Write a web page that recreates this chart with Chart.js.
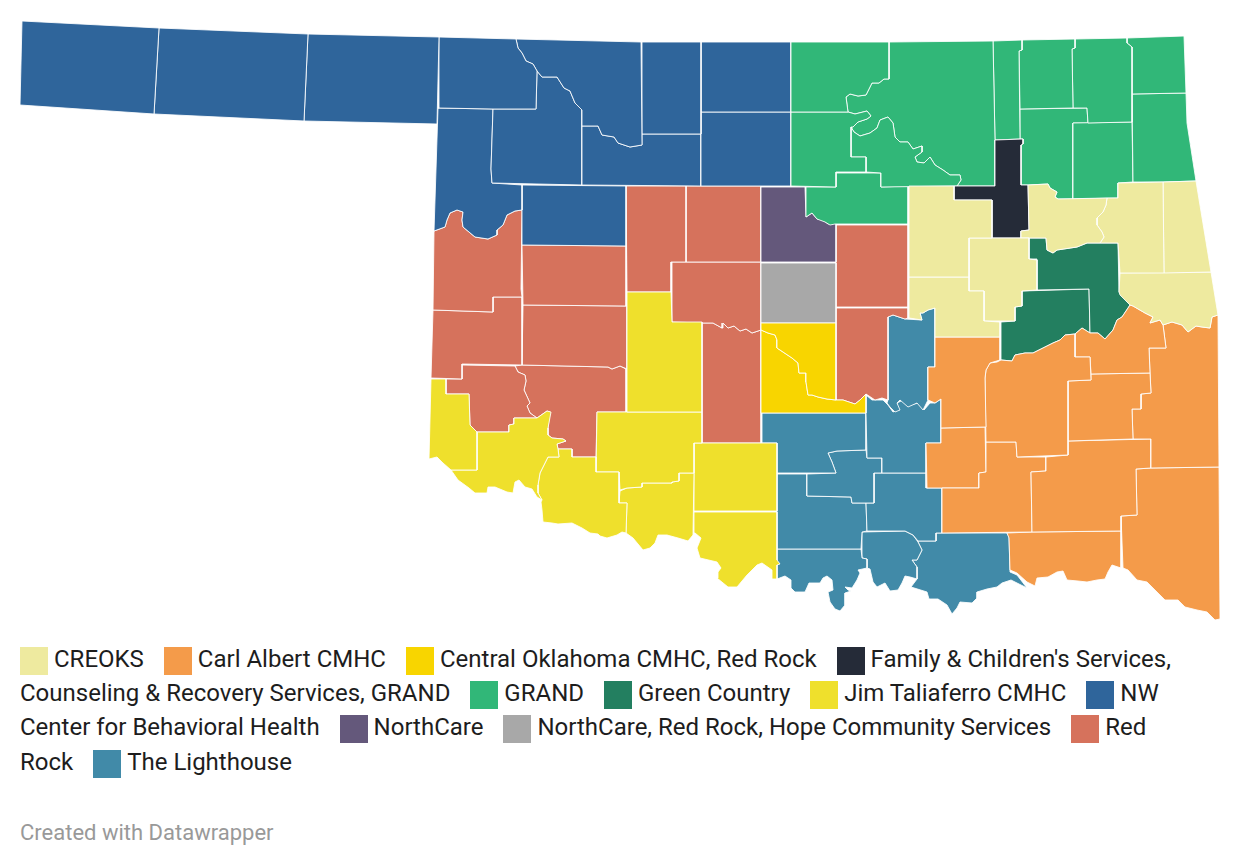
<!DOCTYPE html>
<html>
<head>
<meta charset="utf-8">
<title>Oklahoma service areas</title>
<script src="https://cdn.jsdelivr.net/npm/chart.js@4"></script>
<style>
  html, body { margin: 0; padding: 0; background: #fff; font-family: Roboto, sans-serif; }
  #map-wrap { position: absolute; left: 0; top: 0; width: 1240px; height: 640px; }
  #legend { position: absolute; left: 20px; top: 641.6px; width: 1180px; font-size: 24px; line-height: 34.4px; color: #1d1d1d; }
  .swatch { display: inline-block; width: 28px; height: 28px; margin-right: 6px; vertical-align: -8px; }
  .item { margin-right: 14px; }
  #credit { position: absolute; left: 20px; top: 820px; font-size: 22px; color: #999; }
</style>
</head>
<body>
<div id="map-wrap"><canvas id="map" width="1240" height="640"></canvas></div>
<div id="legend"></div>
<div id="credit">Created with Datawrapper</div>
<script>
// Legend order
const providerNames = ["CREOKS", "Carl Albert CMHC", "Central Oklahoma CMHC, Red Rock", "Family & Children's Services, Counseling & Recovery Services, GRAND", "GRAND", "Green Country", "Jim Taliaferro CMHC", "NW Center for Behavioral Health", "NorthCare", "NorthCare, Red Rock, Hope Community Services", "Red Rock", "The Lighthouse"];
const providerColors = ["#eeea9f", "#f49b4a", "#f8d500", "#252b38", "#31b778", "#237f60", "#efe02c", "#2f659b", "#64587b", "#a8a8a8", "#d6725c", "#418aa8"];

// County outlines, flat x,y lists
const creoksCounties = [
  [909,186,954,186,954,200,992,200,992,238,969,238,969,277,909,277],
  [909,277,969,277,969,291,984,291,984,321,1000,322,1000,337,935,337,935,308,928,310,923,313,920,313,922,320,909,318],
  [969,238,1029,238,1029,259,1037,260,1037,290,1022,291,1022,306,1015,307,1015,321,984,321,984,291,969,291],
  [1028,185,1048,184,1050,188,1057,192,1055,197,1058,199,1107,198,1106,205,1103,212,1097,218,1097,225,1102,232,1104,237,1100,243,1087,243,1077,247,1057,250,1053,253,1047,250,1046,238,1021,238,1021,231,1029,230],
  [1107,198,1118,198,1118,183,1163,182,1164,273,1120,273,1118,243,1100,243,1104,237,1102,232,1097,225,1097,218,1103,212,1106,205],
  [1163,182,1196,181,1211,272,1164,273],
  [1120,273,1211,272,1218,315,1212,317,1210,328,1202,327,1196,326,1188,332,1182,325,1172,322,1163,325,1160,320,1150,323,1153,317,1145,313,1133,306,1130,305,1120,295,1119,292]
];
const carlAlbertCounties = [
  [935,337,1000,337,1000,360,990,363,986,370,985,378,986,427,941,428,941,399,935,403,928,400,928,367,935,367],
  [997,362,1001,360,1012,361,1015,355,1025,353,1033,353,1043,348,1053,343,1060,340,1065,335,1075,334,1075,357,1090,357,1091,380,1068,381,1068,455,1017,457,1016,442,986,442,985,378,986,370,990,363],
  [1075,334,1082,328,1090,333,1098,333,1105,339,1113,330,1117,320,1122,317,1130,305,1133,306,1145,313,1153,317,1150,323,1160,320,1163,325,1166,348,1149,348,1150,373,1091,374,1090,357,1075,357],
  [1068,381,1091,380,1091,374,1150,373,1151,393,1141,394,1141,409,1132,409,1133,439,1068,441],
  [1163,325,1172,322,1182,325,1188,332,1196,326,1202,327,1210,328,1212,317,1218,315,1219,467,1151,468,1151,439,1133,439,1132,409,1141,409,1141,394,1151,393,1150,373,1149,348,1166,348],
  [1068,441,1151,439,1151,468,1136,469,1137,515,1121,516,1121,531,1032,532,1031,472,1046,471,1046,457,1068,455],
  [986,442,1016,442,1017,457,1046,457,1046,471,1031,472,1032,532,942,533,942,488,979,488,979,473,986,472],
  [941,428,985,427,986,472,979,473,979,488,927,488,926,443,941,443],
  [1007,533,1032,532,1121,531,1121,568,1112,565,1108,572,1105,579,1097,580,1087,582,1078,581,1067,580,1063,571,1057,572,1048,577,1037,578,1035,586,1027,582,1017,573,1010,570,1009,538],
  [1136,469,1151,468,1219,467,1220,619,1215,620,1207,612,1197,610,1185,607,1178,600,1165,600,1153,588,1147,582,1137,580,1128,570,1123,568,1121,516,1137,515]
];
const centralOklahomaCounties = [
  [761,323,836,323,836,400,827,399,818,397,812,395,808,395,806,382,806,373,799,373,798,363,792,358,777,348,777,340,775,335,768,333,761,330],
  [761,330,768,333,775,335,777,340,777,348,792,358,798,363,799,373,806,373,806,382,808,395,812,395,818,397,827,399,836,400,843,400,855,404,860,400,866,394,866,413,761,413]
];
const familyChildrensCounties = [
  [995,140,1023,139,1023,144,1021,145,1021,185,1028,185,1029,230,1021,231,1021,238,992,238,992,200,954,200,954,186,995,186]
];
const grandCounties = [
  [791,42,889,42,889,79,884,79,879,83,872,83,866,95,858,96,850,94,846,97,848,112,791,112],
  [791,112,848,112,855,114,867,111,871,116,867,119,858,122,853,127,851,127,851,157,866,157,866,172,836,172,836,187,791,186],
  [851,127,854,132,860,136,870,133,877,128,880,120,888,117,893,123,895,137,900,142,908,142,913,149,922,146,922,152,915,157,917,162,924,163,930,157,935,165,943,170,950,175,960,175,961,180,957,186,881,187,881,173,866,172,866,157,851,157],
  [806,187,836,187,836,173,881,173,881,187,908,186,908,224,835,224,830,225,825,222,817,219,812,213,806,217],
  [889,42,993,41,995,140,995,186,957,186,961,180,960,175,950,175,943,170,935,165,930,157,924,163,917,162,915,157,922,152,922,146,913,149,908,142,900,142,895,137,893,123,888,117,880,120,877,128,870,133,860,136,854,132,851,127,853,127,858,122,867,119,871,116,867,111,855,114,848,112,846,97,850,94,858,96,866,95,872,83,879,83,884,79,889,79],
  [993,41,1022,40,1022,50,1019,51,1020,139,995,140],
  [1022,40,1075,39,1075,48,1072,49,1073,108,1020,109,1019,51,1022,50],
  [1075,39,1127,38,1127,43,1132,47,1132,122,1088,123,1087,108,1073,108,1072,49,1075,48],
  [1127,38,1184,36,1186,93,1132,94,1132,47,1127,43],
  [1132,94,1186,93,1187,123,1196,181,1163,182,1133,182],
  [1073,123,1132,122,1133,182,1118,183,1118,198,1073,199],
  [1020,109,1087,108,1088,123,1073,123,1073,199,1058,199,1055,197,1057,192,1050,188,1048,184,1028,185,1021,185,1021,145,1023,144,1023,139,1020,139]
];
const greenCountryCounties = [
  [1029,238,1046,238,1047,250,1053,253,1057,250,1077,247,1087,243,1118,243,1119,292,1130,305,1122,317,1117,320,1113,330,1105,339,1098,333,1090,333,1089,289,1037,290,1037,259,1029,259],
  [1022,291,1089,289,1090,333,1082,328,1075,334,1065,335,1060,340,1053,343,1043,348,1033,353,1025,353,1015,355,1012,361,1001,360,1001,322,1015,321,1015,307,1022,306]
];
const jimTaliaferroCounties = [
  [431,379,446,379,446,394,469,394,470,425,477,432,477,470,451,470,443,463,437,457,429,459],
  [627,292,671,292,672,322,702,322,702,412,627,412],
  [477,432,509,432,509,425,514,424,514,418,537,418,547,411,551,412,548,428,548,435,552,438,563,439,566,441,557,444,558,449,559,457,548,457,544,465,540,473,538,485,538,493,542,500,537,497,532,489,525,487,519,480,515,482,513,493,507,492,495,487,488,487,487,493,475,493,469,488,458,480,451,470,477,470],
  [558,449,572,449,572,457,596,457,596,472,619,472,619,503,627,503,626,533,622,532,617,535,607,538,600,536,598,534,590,533,582,528,572,523,558,524,552,523,543,522,542,510,541,502,542,500,538,493,538,485,540,473,544,465,548,457,559,457],
  [597,412,702,412,702,443,694,443,694,473,679,473,679,481,672,482,672,483,642,483,642,487,627,488,620,490,619,472,596,472],
  [620,491,627,488,642,487,642,483,672,483,672,482,679,481,679,473,694,473,693,535,688,541,678,538,667,535,658,535,655,543,650,548,643,550,633,538,626,533,627,503,619,503],
  [694,443,777,443,777,511,694,511],
  [694,512,777,512,777,560,780,564,777,565,777,579,772,579,772,570,762,563,757,565,747,575,737,587,728,587,717,578,718,572,721,568,717,562,700,558,697,548,701,538,695,533]
];
const nwCenterCounties = [
  [22,21,159,28,154,114,20,105],
  [159,28,308,34,304,121,154,114],
  [308,34,439,37,437,124,304,121],
  [439,37,516,39,518,48,522,53,526,61,533,64,537,71,536,109,493,109,438,108],
  [516,39,641,42,642,145,630,147,618,143,614,137,602,135,598,126,582,126,582,110,575,103,570,91,564,88,557,77,542,77,537,71,533,64,526,61,522,53,518,48],
  [642,42,701,42,701,134,642,134],
  [701,42,791,42,791,112,701,112],
  [701,112,791,112,791,186,701,186],
  [582,126,598,126,602,135,614,137,618,143,630,147,642,145,642,134,701,134,701,186,582,185],
  [493,109,536,109,537,71,542,77,557,77,564,88,570,91,575,103,582,110,582,185,492,183,491,169],
  [438,108,493,109,491,169,492,183,522,185,522,210,515,211,507,215,503,225,497,230,497,235,488,239,475,237,463,227,462,220,463,212,457,210,450,213,447,220,445,227,434,231],
  [522,185,626,186,626,246,522,245]
];
const northCareCounties = [
  [761,187,805,187,806,217,812,213,817,219,823,220,828,224,836,223,836,262,761,262]
];
const northCareRedRockCounties = [
  [761,263,836,263,836,323,761,323]
];
const redRockCounties = [
  [434,231,445,227,447,220,450,213,457,210,463,212,462,220,463,227,475,237,488,239,497,235,497,230,503,225,507,215,515,211,522,210,521,289,522,297,493,297,493,312,433,310],
  [522,245,626,246,626,306,523,305],
  [626,186,686,186,686,262,671,262,671,292,627,292],
  [686,186,761,186,761,262,686,262],
  [672,262,761,262,761,330,752,333,746,329,740,331,734,326,728,328,723,323,722,328,713,323,702,323,672,322],
  [433,310,493,312,493,297,522,297,522,365,462,364,462,379,431,378],
  [523,305,627,306,627,369,620,366,612,369,608,367,522,365],
  [462,365,515,366,518,372,525,375,526,381,524,390,530,403,527,406,530,413,537,418,514,418,514,424,509,425,509,432,477,432,470,425,469,394,446,394,446,379,462,379],
  [515,366,522,365,608,367,612,369,620,366,626,369,626,412,597,412,596,457,572,457,572,449,558,449,557,444,566,441,563,439,552,438,548,435,548,428,550,412,547,411,537,418,530,413,527,406,530,403,524,390,526,381,525,375,518,372],
  [702,323,713,323,722,328,723,323,728,328,734,326,740,331,746,329,752,333,761,330,761,443,702,443],
  [836,225,908,225,908,307,836,307],
  [836,308,908,308,908,318,905,319,893,315,888,317,888,400,882,398,875,400,866,394,860,400,855,404,843,400,836,400]
];
const lighthouseCounties = [
  [888,317,893,315,905,319,922,320,920,313,923,313,928,310,935,308,935,367,928,367,928,400,923,410,917,403,908,407,900,400,897,403,900,410,895,412,890,407,887,403,888,400],
  [866,395,872,400,883,400,888,405,893,412,898,410,897,403,903,400,910,405,918,403,924,410,930,403,935,403,941,399,941,443,926,443,926,473,882,473,882,458,867,458,866,413],
  [762,413,866,413,866,450,837,451,828,453,832,462,836,473,777,473,777,443,762,443],
  [828,453,837,451,866,450,867,458,882,458,882,473,874,473,874,503,852,503,851,497,807,496,807,474,836,473,832,462],
  [874,473,926,473,926,488,942,488,942,533,936,533,936,541,918,541,913,535,905,531,867,531,866,503,874,503],
  [777,474,807,474,807,496,851,497,852,503,866,503,867,531,862,532,861,549,777,549],
  [777,549,861,549,862,558,867,559,867,568,858,570,860,573,857,580,852,588,845,587,848,590,851,591,845,593,845,605,840,611,835,609,830,602,828,592,833,590,832,580,827,576,823,578,820,583,813,583,809,583,805,592,795,592,791,588,791,580,785,576,777,579],
  [862,532,905,531,913,535,918,542,922,550,917,560,912,560,917,567,917,579,910,577,905,576,902,583,898,590,890,591,885,583,877,587,873,582,870,569,867,568,867,559,862,558],
  [918,541,936,541,936,533,1007,533,1009,537,1010,572,1017,575,1027,588,1011,580,1002,583,997,587,987,589,977,592,977,598,972,603,960,602,957,608,952,614,947,605,938,599,929,599,927,592,911,587,917,579,917,567,912,560,917,560,922,550,918,542]
];

// Same order as providerNames
const providerCounties = [creoksCounties, carlAlbertCounties, centralOklahomaCounties, familyChildrensCounties, grandCounties, greenCountryCounties, jimTaliaferroCounties, nwCenterCounties, northCareCounties, northCareRedRockCounties, redRockCounties, lighthouseCounties];

function toPoints(flat) {
  const pts = [];
  for (let i = 0; i < flat.length; i += 2) pts.push({ x: flat[i], y: flat[i + 1] });
  pts.push({ x: flat[0], y: flat[1] }); // close the ring
  return pts;
}

const datasets = [];
providerCounties.forEach((counties, p) => {
  counties.forEach((flat) => {
    datasets.push({
      label: providerNames[p],
      data: toPoints(flat),
      showLine: true,
      fill: "shape",
      backgroundColor: providerColors[p],
      borderColor: "rgba(255,255,255,0.85)",
      borderWidth: 1,
      pointRadius: 0,
      pointHoverRadius: 0,
      tension: 0,
    });
  });
});

new Chart(document.getElementById("map"), {
  type: "scatter",
  data: { datasets },
  options: {
    responsive: false,
    animation: false,
    layout: { padding: 0 },
    plugins: { legend: { display: false }, tooltip: { enabled: false } },
    scales: {
      x: { type: "linear", min: 0, max: 1240, display: false },
      y: { type: "linear", min: 0, max: 640, reverse: true, display: false },
    },
  },
});

// Legend wraps like running text, so it lives in the page and not in the canvas
const legend = document.getElementById("legend");
providerNames.forEach((name, i) => {
  const item = document.createElement("span");
  item.className = "item";
  const swatch = document.createElement("span");
  swatch.className = "swatch";
  swatch.style.background = providerColors[i];
  item.appendChild(swatch);
  item.appendChild(document.createTextNode(name));
  legend.appendChild(item);
  legend.appendChild(document.createTextNode(" "));
});
</script>
</body>
</html>
